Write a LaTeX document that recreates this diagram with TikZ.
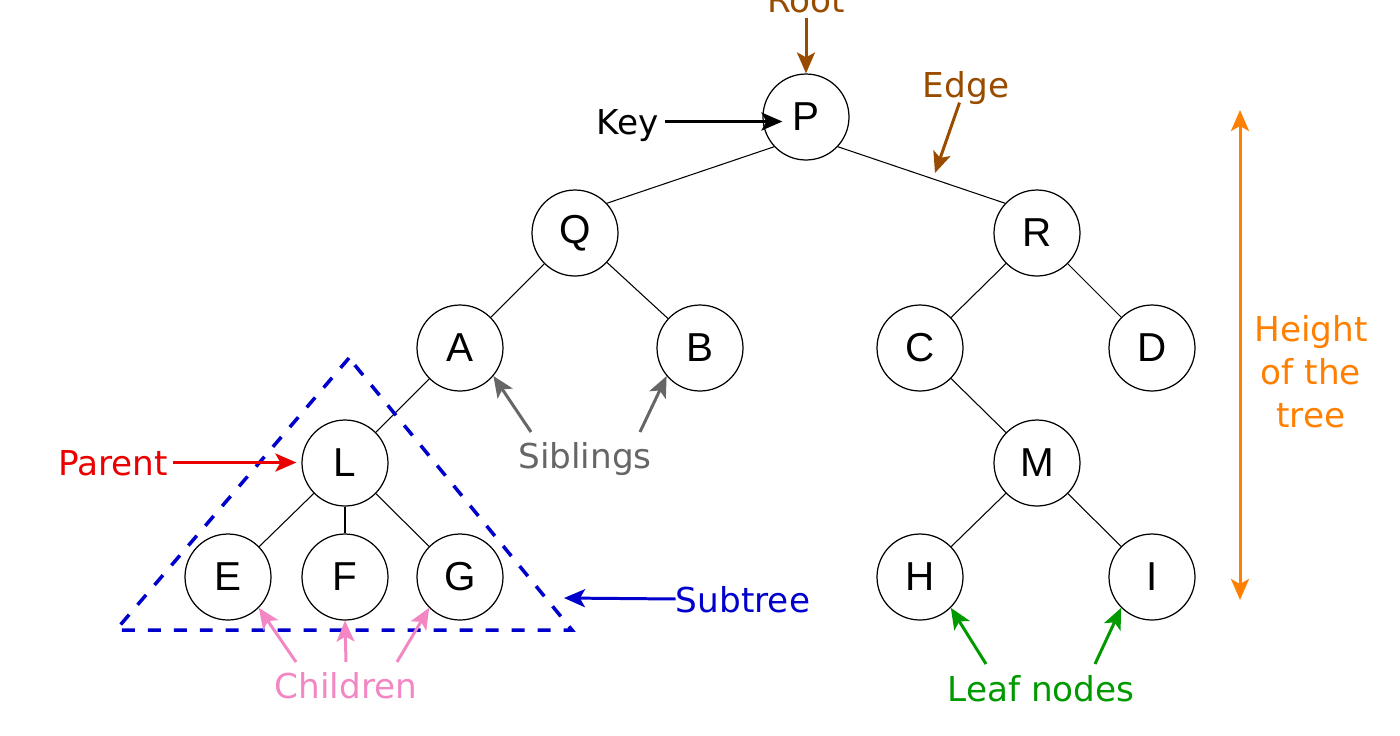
\documentclass[tikz,border=0pt]{standalone}
\usepackage{fontspec}
\setmainfont{DejaVu Sans}
\newfontfamily\keyfont{Liberation Sans}
\usetikzlibrary{arrows.meta}
\definecolor{rootbrown}{RGB}{153,76,0}
\definecolor{parentred}{RGB}{235,0,0}
\definecolor{siblinggray}{RGB}{102,102,102}
\definecolor{subtreeblue}{RGB}{0,0,204}
\definecolor{childpink}{RGB}{242,135,195}
\definecolor{leafgreen}{RGB}{0,153,0}
\definecolor{heightorange}{RGB}{255,128,0}
\tikzset{
  treenode/.style={
    shape = circle,
    draw,
    line width = 0.7pt,
    minimum size = 1.72cm,
    inner sep = 0pt,
    font = \keyfont\fontsize{23}{23}\selectfont
  },
  treeedge/.style={
    line width = 0.6pt
  },
  annot/.style={
    font = \fontsize{19.5}{24.3}\selectfont,
    text depth = 0pt,
    inner sep = 3pt
  },
  pointer/.style={
    line width = 1.7pt,
    -{Stealth[length=0.42cm, width=0.36cm, inset=0.1cm]}
  },
  twopointer/.style={
    line width = 1.7pt,
    {Stealth[length=0.42cm, width=0.36cm, inset=0.1cm]}-{Stealth[length=0.42cm, width=0.36cm, inset=0.1cm]}
  }
}
\begin{document}
\begin{tikzpicture}[x=0.02cm, y=-0.02cm]
  \useasboundingbox (0,0) rectangle (1400,735);
  % the tree
  \node[treenode] (P) at (806,117) {P};
  \node[treenode] (Q) at (575,233) {Q};
  \node[treenode] (R) at (1037,233) {R};
  \node[treenode] (A) at (460,348) {A};
  \node[treenode] (B) at (700,348) {B};
  \node[treenode] (C) at (920,348) {C};
  \node[treenode] (D) at (1152,348) {D};
  \node[treenode] (L) at (345,463) {L};
  \node[treenode] (M) at (1037,463) {M};
  \node[treenode] (E) at (228,577) {E};
  \node[treenode] (F) at (345,577) {F};
  \node[treenode] (G) at (460,577) {G};
  \node[treenode] (H) at (920,577) {H};
  \node[treenode] (I) at (1152,577) {I};
  \draw[treeedge] (P.223) -- (Q.43);
  \draw[treeedge] (P.317) -- (R.137);
  \foreach \a/\b in {Q/A,Q/B,R/C,R/D,A/L,L/E,L/F,L/G,C/M,M/H,M/I}
    \draw[treeedge] (\a) -- (\b);
  % subtree outline
  \coordinate (tri1) at (349,358);
  \coordinate (tri2) at (116,630);
  \coordinate (tri3) at (572,630);
  \draw[subtreeblue, line width=2pt, dash pattern=on 0.26cm off 0.26cm]
    (tri1) -- (tri2) -- (tri3) -- cycle;
  % labels
  \node[annot, rootbrown, anchor=base] (root) at (806,12) {Root};
  \node[annot, anchor=base] (key) at (628,134) {Key};
  \node[annot, rootbrown, anchor=base] (edge) at (966,97) {Edge};
  \node[annot, parentred, anchor=base] (parent) at (113,475) {Parent};
  \node[annot, siblinggray, anchor=base] (sib) at (585,468) {Siblings};
  \node[annot, subtreeblue, anchor=base, inner sep=0pt] (sub) at (743,612) {Subtree};
  \node[annot, childpink, anchor=base] (child) at (346,698) {Children};
  \node[annot, leafgreen, anchor=base] (leaf) at (1041,701) {Leaf nodes};
  \node[annot, heightorange, anchor=base, align=center] (hgt) at (1311,427) {Height\\of the\\tree};
  % pointers
  \coordinate (edgept) at (935,173);
  \coordinate (subpt) at (564,598);
  \coordinate (s1) at (531,432);
  \coordinate (s2) at (640,432);
  \coordinate (c1) at (296,662);
  \coordinate (c2) at (346,662);
  \coordinate (c3) at (397,662);
  \coordinate (l1) at (986,664);
  \coordinate (l2) at (1095,664);
  \coordinate (h1) at (1240,110);
  \coordinate (h2) at (1240,600);
  \draw[pointer, rootbrown] (root) -- (P);
  \draw[pointer] (key.east) -- ([xshift=0.4cm]P.west |- key.east);
  \draw[pointer, rootbrown] (edge) -- (edgept);
  \draw[pointer, parentred] (parent.east) -- ([xshift=-0.1cm]L.west |- parent.east);
  \draw[pointer, siblinggray] (s1) -- (A.-40);
  \draw[pointer, siblinggray] (s2) -- (B.-140);
  \draw[pointer, subtreeblue] (sub.west) -- (subpt);
  \draw[pointer, childpink] (c1) -- (E.-45);
  \draw[pointer, childpink] (c2) -- (F.south);
  \draw[pointer, childpink] (c3) -- (G.-135);
  \draw[pointer, leafgreen] (l1) -- (H.-45);
  \draw[pointer, leafgreen] (l2) -- (I.-135);
  \draw[twopointer, heightorange] (h1) -- (h2);
\end{tikzpicture}
\end{document}
